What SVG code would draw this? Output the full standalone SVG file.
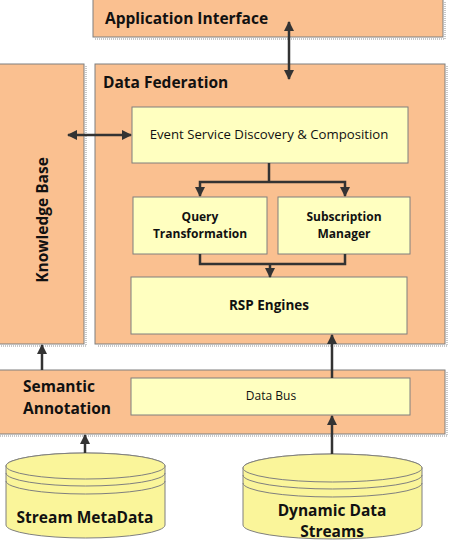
<svg xmlns="http://www.w3.org/2000/svg" width="449" height="549" viewBox="0 0 449 549">
<defs>
<marker id="ah" viewBox="0 0 10 10" refX="9" refY="5" markerWidth="10" markerHeight="10" markerUnits="userSpaceOnUse" orient="auto-start-reverse">
<path d="M0,0 L10,5 L0,10 Z" fill="#333333"/>
</marker>
</defs>
<style>
.layer{fill:#FAC090;stroke:#7F7F7F;stroke-width:1}
.shadow{fill:none;stroke:#C8C8C8;stroke-width:2;stroke-dasharray:1 1}
.box{fill:#FFFFC0;stroke:#7F7F7F;stroke-width:1}
.cyl{fill:#FAF59A;stroke:#7F7F7F;stroke-width:1}
.t{font-family:"Open Sans","Liberation Sans",sans-serif;fill:#111111}
.b{font-weight:bold}
.con{fill:none;stroke:#333333;stroke-width:2.5}
</style>
<g id="application-interface">
<path class="shadow" d="M445,2 V39 H95"/>
<rect class="layer" x="93" y="-1" width="350" height="38"/>
<text class="t b" x="105" y="24" font-size="15.5">Application Interface</text>
</g>
<g id="knowledge-base">
<path class="shadow" d="M86,66 V346 H0"/>
<rect class="layer" x="-1" y="64" width="85" height="280"/>
<text class="t b" transform="translate(48,220) rotate(-90)" text-anchor="middle" font-size="15.5">Knowledge Base</text>
</g>
<g id="data-federation">
<path class="shadow" d="M447,66 V346 H97"/>
<rect class="layer" x="95" y="64" width="350" height="280"/>
<text class="t b" x="103" y="88" font-size="15.5">Data Federation</text>
</g>
<g id="event-service">
<rect class="box" x="132" y="107" width="276" height="56"/>
<text class="t" x="269" y="139" text-anchor="middle" font-size="13.2">Event Service Discovery &amp; Composition</text>
</g>
<g id="query-transformation">
<rect class="box" x="133" y="197" width="134" height="57"/>
<text class="t b" x="200" y="221" text-anchor="middle" font-size="12">Query</text>
<text class="t b" x="200" y="238" text-anchor="middle" font-size="12">Transformation</text>
</g>
<g id="subscription-manager">
<rect class="box" x="278" y="197" width="132" height="57"/>
<text class="t b" x="344" y="221" text-anchor="middle" font-size="12">Subscription</text>
<text class="t b" x="344" y="238" text-anchor="middle" font-size="12">Manager</text>
</g>
<g id="rsp-engines">
<rect class="box" x="131" y="277" width="276" height="57"/>
<text class="t b" x="269" y="310" text-anchor="middle" font-size="13.5">RSP Engines</text>
</g>
<g id="semantic-annotation">
<path class="shadow" d="M447,372 V436 H0"/>
<rect class="layer" x="-1" y="370" width="446" height="64"/>
<text class="t b" x="23" y="392" font-size="15.5">Semantic</text>
<text class="t b" x="23" y="414" font-size="15.5">Annotation</text>
</g>
<g id="data-bus">
<rect class="box" x="131" y="378" width="279" height="37"/>
<text class="t" x="271" y="400" text-anchor="middle" font-size="12">Data Bus</text>
</g>
<g id="stream-metadata">
<path class="cyl" d="M6,466 A79.5,13 0 0 1 165,466 V525 A79.5,13 0 0 1 6,525 Z"/>
<ellipse class="cyl" cx="85.5" cy="466" rx="79.5" ry="13"/>
<path class="cyl" d="M6,473 A79.5,13 0 0 0 165,473 M6,481 A79.5,13 0 0 0 165,481" style="fill:none"/>
<text class="t b" x="85" y="523" text-anchor="middle" font-size="15.5">Stream MetaData</text>
</g>
<g id="dynamic-data-streams">
<path class="cyl" d="M243,468 A89.5,14 0 0 1 422,468 V525 A89.5,14 0 0 1 243,525 Z"/>
<ellipse class="cyl" cx="332.5" cy="468" rx="89.5" ry="14"/>
<path class="cyl" d="M243,475 A89.5,14 0 0 0 422,475 M243,483 A89.5,14 0 0 0 422,483" style="fill:none"/>
<text class="t b" x="332" y="516" text-anchor="middle" font-size="15.5">Dynamic Data</text>
<text class="t b" x="332" y="537" text-anchor="middle" font-size="15.5">Streams</text>
</g>
<g id="connectors">
<line class="con" x1="289" y1="22" x2="289" y2="79" marker-start="url(#ah)" marker-end="url(#ah)"/>
<line class="con" x1="68" y1="135" x2="131" y2="135" marker-start="url(#ah)" marker-end="url(#ah)"/>
<path class="con" d="M269,163 V182"/>
<path class="con" d="M200,196 V182 H345 V196" marker-start="url(#ah)" marker-end="url(#ah)"/>
<path class="con" d="M200,254 V264 H345 V254"/>
<line class="con" x1="270" y1="264" x2="270" y2="277" marker-end="url(#ah)"/>
<line class="con" x1="42" y1="370" x2="42" y2="345" marker-end="url(#ah)"/>
<line class="con" x1="332" y1="378" x2="332" y2="335" marker-end="url(#ah)"/>
<line class="con" x1="85" y1="453" x2="85" y2="435" marker-end="url(#ah)"/>
<line class="con" x1="332" y1="454" x2="332" y2="416" marker-end="url(#ah)"/>
</g>
</svg>
